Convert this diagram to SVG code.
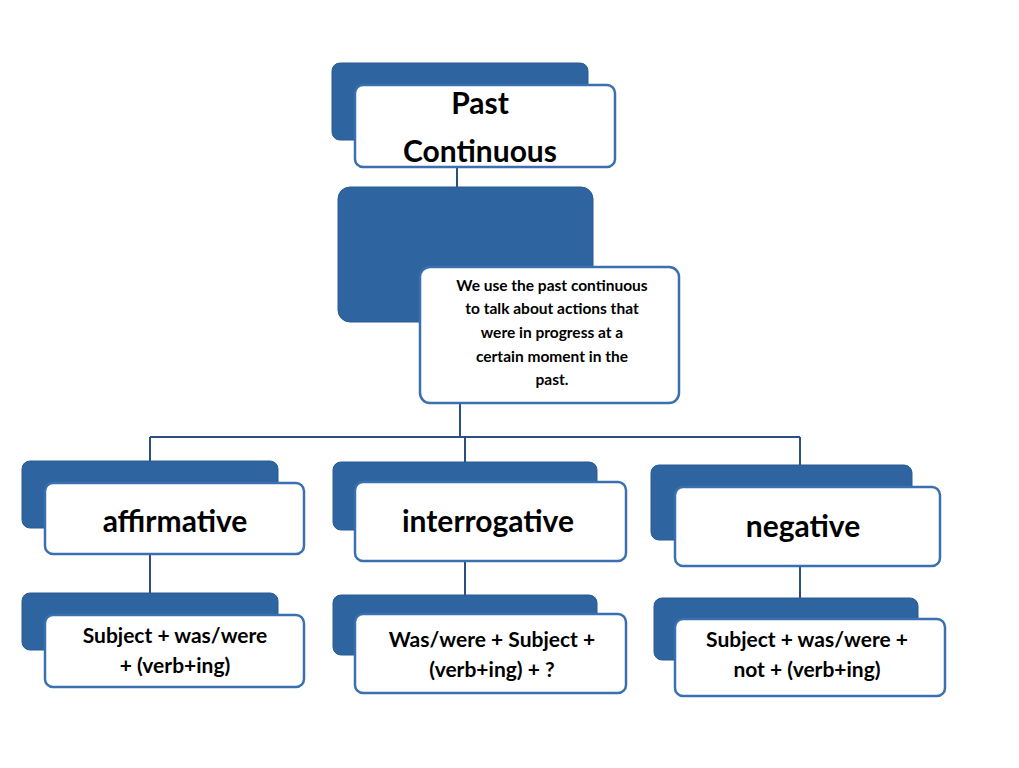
<svg xmlns="http://www.w3.org/2000/svg" width="1019" height="768" viewBox="0 0 1019 768">
<style>
.d{fill:#2e65a0;stroke:#2a5a90;stroke-width:1}
.w{fill:#fff;stroke:#3a6fb0;stroke-width:2.5}
.c{stroke:#2a4f80;stroke-width:2;fill:none}
text{font-family:Lato,"Open Sans",sans-serif;font-weight:bold;fill:#000;text-anchor:middle}
.big{font-size:30px}
.mid{font-size:21px}
.sm{font-size:15.5px}
</style>
<rect width="1019" height="768" fill="#fff"/>
<g id="connectors">
<path class="c" d="M457 167V188"/>
<path class="c" d="M460 403V437M150 437H800M150 437V461M465 437V462M800 437V465"/>
<path class="c" d="M150 554V593M465 561V595M800 566V598"/>
</g>
<g id="title">
<rect class="d" x="332" y="63" width="256" height="77" rx="8"/>
<rect class="w" x="355" y="85" width="260" height="82" rx="8"/>
<text class="big" x="480" y="114">Past</text>
<text class="big" x="480" y="162">Continuous</text>
</g>
<g id="definition">
<rect class="d" x="338" y="187" width="255" height="135" rx="12"/>
<rect class="w" x="420" y="267" width="259" height="136" rx="10"/>
<text class="sm" x="552" y="291">We use the past continuous</text>
<text class="sm" x="552" y="314">to talk about actions that</text>
<text class="sm" x="552" y="338">were in progress at a</text>
<text class="sm" x="552" y="362">certain moment in the</text>
<text class="sm" x="552" y="385">past.</text>
</g>
<g id="affirmative">
<rect class="d" x="22" y="461" width="256" height="67" rx="8"/>
<rect class="w" x="45" y="483" width="259" height="71" rx="8"/>
<text class="big" x="175" y="532">affirmative</text>
</g>
<g id="interrogative">
<rect class="d" x="333" y="462" width="264" height="68" rx="8"/>
<rect class="w" x="355" y="482" width="271" height="79" rx="8"/>
<text class="big" x="488" y="532">interrogative</text>
</g>
<g id="negative">
<rect class="d" x="651" y="465" width="261" height="75" rx="8"/>
<rect class="w" x="675" y="487" width="265" height="79" rx="8"/>
<text class="big" x="803" y="537">negative</text>
</g>
<g id="aff-form">
<rect class="d" x="22" y="593" width="256" height="57" rx="8"/>
<rect class="w" x="45" y="615" width="259" height="72" rx="8"/>
<text class="mid" x="175" y="643">Subject + was/were</text>
<text class="mid" x="175" y="673">+ (verb+ing)</text>
</g>
<g id="int-form">
<rect class="d" x="333" y="595" width="264" height="60" rx="8"/>
<rect class="w" x="355" y="614" width="271" height="79" rx="8"/>
<text class="mid" x="492" y="647">Was/were + Subject +</text>
<text class="mid" x="492" y="677">(verb+ing) + ?</text>
</g>
<g id="neg-form">
<rect class="d" x="654" y="598" width="264" height="62" rx="8"/>
<rect class="w" x="675" y="619" width="270" height="77" rx="8"/>
<text class="mid" x="807" y="647">Subject + was/were +</text>
<text class="mid" x="807" y="677">not + (verb+ing)</text>
</g>
</svg>
